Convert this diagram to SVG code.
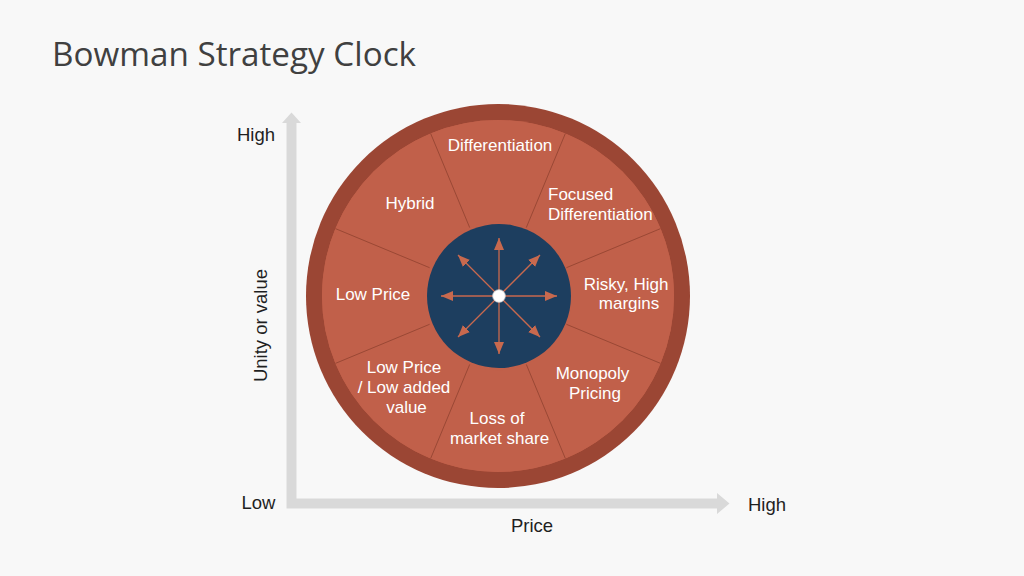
<svg xmlns="http://www.w3.org/2000/svg" width="1024" height="576" viewBox="0 0 1024 576">
  <defs>
    <style>
      .seg { fill: #C1604A; }
      .lbl { font-family: "Liberation Sans", Arial, sans-serif; font-size: 17px; fill: #ffffff; text-anchor: middle; }
      .ax { font-family: "Liberation Sans", Arial, sans-serif; font-size: 18.5px; fill: #1f1f1f; }
      .div { stroke: #9A4835; stroke-width: 1; }
      .arr { stroke: #C8694E; stroke-width: 1.3; fill: none; marker-end: url(#ah); }
    </style>
    <marker id="ah" viewBox="0 0 12 10" refX="12" refY="5" markerWidth="12" markerHeight="10" markerUnits="userSpaceOnUse" orient="auto">
      <path d="M0,0 L12,5 L0,10 Z" fill="#C8694E"/>
    </marker>
  </defs>
  <rect width="1024" height="576" fill="#F8F8F8"/>
  <text x="52" y="66" font-family="'Open Sans', 'Noto Sans', sans-serif" font-size="32" fill="#404040" textLength="364" lengthAdjust="spacingAndGlyphs">Bowman Strategy Clock</text>

  <g id="axes">
    <path d="M286.5,508.5 V123 H282 L291.5,112.5 L301,123 H296.5 V498.5 H717 V493 L729.5,503.5 L717,514 V508.5 Z" fill="#D9D9D9"/>
    <text class="ax" x="237" y="141">High</text>
    <text class="ax" x="241.5" y="508.5">Low</text>
    <text class="ax" x="748" y="510.5">High</text>
    <text class="ax" x="511" y="531.5">Price</text>
    <text class="ax" text-anchor="middle" transform="translate(266.5,325.5) rotate(-90)">Unity or value</text>
  </g>

  <g id="clock-ring">
    <circle cx="498" cy="296" r="192" fill="#9B4634"/>
    <circle cx="498" cy="296" r="176" fill="#C1604A"/>
  </g>

  <g id="seg-differentiation">
    <path class="seg" d="M430.6,133.4 A176,176 0 0 1 565.4,133.4 L526.3,227.6 A74,74 0 0 0 469.7,227.6 Z"/>
    <text class="lbl" x="500" y="151">Differentiation</text>
  </g>
  <g id="seg-focused-differentiation">
    <path class="seg" d="M565.4,133.4 A176,176 0 0 1 660.6,228.6 L566.4,267.7 A74,74 0 0 0 526.3,227.6 Z"/>
    <text class="lbl" x="548" y="200" text-anchor="start" style="text-anchor:start">Focused</text>
    <text class="lbl" x="548" y="219.5" style="text-anchor:start">Differentiation</text>
  </g>
  <g id="seg-risky-high-margins">
    <path class="seg" d="M660.6,228.6 A176,176 0 0 1 660.6,363.4 L566.4,324.3 A74,74 0 0 0 566.4,267.7 Z"/>
    <text class="lbl" x="626" y="289.5">Risky, High</text>
    <text class="lbl" x="629" y="309">margins</text>
  </g>
  <g id="seg-monopoly-pricing">
    <path class="seg" d="M660.6,363.4 A176,176 0 0 1 565.4,458.6 L526.3,364.4 A74,74 0 0 0 566.4,324.3 Z"/>
    <text class="lbl" x="592.5" y="378.5">Monopoly</text>
    <text class="lbl" x="595" y="398.5">Pricing</text>
  </g>
  <g id="seg-loss-of-market-share">
    <path class="seg" d="M565.4,458.6 A176,176 0 0 1 430.6,458.6 L469.7,364.4 A74,74 0 0 0 526.3,364.4 Z"/>
    <text class="lbl" x="497" y="424">Loss of</text>
    <text class="lbl" x="499.5" y="443.5">market share</text>
  </g>
  <g id="seg-low-price-low-added-value">
    <path class="seg" d="M430.6,458.6 A176,176 0 0 1 335.4,363.4 L429.6,324.3 A74,74 0 0 0 469.7,364.4 Z"/>
    <text class="lbl" x="404" y="372.5">Low Price</text>
    <text class="lbl" x="404" y="392.5">/ Low added</text>
    <text class="lbl" x="406.5" y="412.5">value</text>
  </g>
  <g id="seg-low-price">
    <path class="seg" d="M335.4,363.4 A176,176 0 0 1 335.4,228.6 L429.6,267.7 A74,74 0 0 0 429.6,324.3 Z"/>
    <text class="lbl" x="373" y="299.5">Low Price</text>
  </g>
  <g id="seg-hybrid">
    <path class="seg" d="M335.4,228.6 A176,176 0 0 1 430.6,133.4 L469.7,227.6 A74,74 0 0 0 429.6,267.7 Z"/>
    <text class="lbl" x="410" y="209">Hybrid</text>
  </g>

  <g id="dividers">
    <line class="div" x1="566.4" y1="267.7" x2="660.6" y2="228.6"/>
    <line class="div" x1="526.3" y1="227.6" x2="565.4" y2="133.4"/>
    <line class="div" x1="469.7" y1="227.6" x2="430.6" y2="133.4"/>
    <line class="div" x1="429.6" y1="267.7" x2="335.4" y2="228.6"/>
    <line class="div" x1="429.6" y1="324.3" x2="335.4" y2="363.4"/>
    <line class="div" x1="469.7" y1="364.4" x2="430.6" y2="458.6"/>
    <line class="div" x1="526.3" y1="364.4" x2="565.4" y2="458.6"/>
    <line class="div" x1="566.4" y1="324.3" x2="660.6" y2="363.4"/>
  </g>

  <g id="hub">
    <circle cx="499" cy="296" r="72" fill="#1D3E5F"/>
  </g>

  <g id="connectors">
    <line class="arr" x1="499" y1="296" x2="557" y2="296"/>
    <line class="arr" x1="499" y1="296" x2="540" y2="255"/>
    <line class="arr" x1="499" y1="296" x2="499" y2="238"/>
    <line class="arr" x1="499" y1="296" x2="458" y2="255"/>
    <line class="arr" x1="499" y1="296" x2="441" y2="296"/>
    <line class="arr" x1="499" y1="296" x2="458" y2="337"/>
    <line class="arr" x1="499" y1="296" x2="499" y2="354"/>
    <line class="arr" x1="499" y1="296" x2="540" y2="337"/>
  </g>

  <g id="center-dot">
    <circle cx="499" cy="296" r="6.3" fill="#ffffff" stroke="#d0d0d0" stroke-width="0.8"/>
  </g>
</svg>
